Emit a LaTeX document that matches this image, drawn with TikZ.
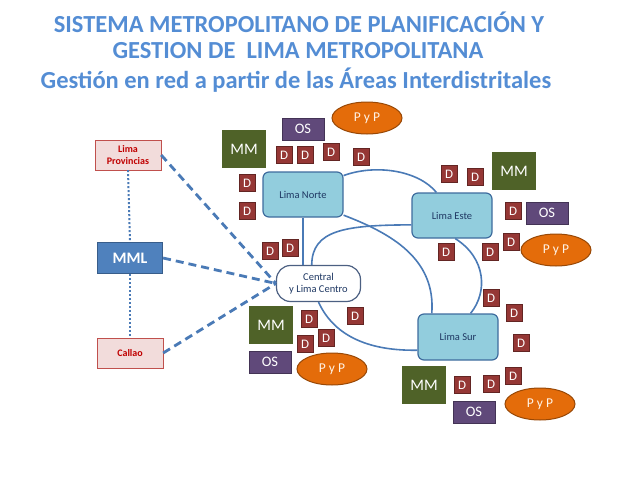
\documentclass[tikz,border=0pt]{standalone}
\usepackage{fontspec}
\setmainfont{Carlito}
\usetikzlibrary{shapes.geometric}

\definecolor{titulo}{RGB}{84,141,212}
\definecolor{linea}{RGB}{74,122,182}
\definecolor{zonafondo}{RGB}{146,205,221}
\definecolor{zonaborde}{RGB}{62,108,158}
\definecolor{zonatexto}{RGB}{31,56,99}
\definecolor{rosafondo}{RGB}{242,220,219}
\definecolor{rosaborde}{RGB}{192,80,77}
\definecolor{rojotexto}{RGB}{192,0,0}
\definecolor{mmlfondo}{RGB}{79,129,189}
\definecolor{mmlborde}{RGB}{56,93,138}
\definecolor{dfondo}{RGB}{149,55,53}
\definecolor{dborde}{RGB}{99,37,35}
\definecolor{mmfondo}{RGB}{79,98,40}
\definecolor{osfondo}{RGB}{96,73,122}
\definecolor{pypfondo}{RGB}{228,108,10}
\definecolor{pypborde}{RGB}{152,72,6}

\begin{document}
\begin{tikzpicture}[x=1pt, y=-1pt,
	every node/.style={inner sep=0pt},
	zona/.style={draw=zonaborde, fill=zonafondo, line width=1.2pt, rounded corners=6pt, minimum width=80pt, minimum height=45pt, text=zonatexto, font=\fontsize{10.5}{12}\selectfont},
	rosa/.style={draw=rosaborde, fill=rosafondo, minimum width=66pt, minimum height=30pt, text=rojotexto, align=center, font=\bfseries\fontsize{10}{11.5}\selectfont},
	dbox/.style={draw=dborde, fill=dfondo, text=white, minimum width=16pt, minimum height=17pt, font=\fontsize{13}{13}\selectfont},
	mmbox/.style={fill=mmfondo, text=white, minimum width=44pt, minimum height=38pt, font=\fontsize{16}{16}\selectfont},
	osbox/.style={draw=osfondo!70!black, fill=osfondo, text=white, minimum width=42pt, minimum height=22pt, font=\fontsize{14.5}{14.5}\selectfont},
	pyp/.style={ellipse, draw=pypborde, fill=pypfondo, line width=1pt, text=white!90!orange, minimum width=70pt, minimum height=32pt, font=\fontsize{13.5}{13.5}\selectfont},
	red/.style={linea, line width=1.6pt},
	enlace/.style={linea, line width=2.8pt, dash pattern=on 8pt off 5pt},
	punteado/.style={linea, line width=2pt, dash pattern=on 2pt off 2pt},
	titular/.style={text=titulo, font=\bfseries\fontsize{24.5}{24.5}\selectfont}]
	\useasboundingbox (0,0) rectangle (638,479);

	% titulo
	\node[titular] (tit1) at (299,22) {SISTEMA METROPOLITANO DE PLANIFICACIÓN Y};
	\node[titular] (tit2) at (298,51) {GESTION DE \ LIMA METROPOLITANA};
	\node[titular] (tit3) at (296,80) {Gestión en red a partir de las Áreas Interdistritales};

	% lado izquierdo
	\node[rosa] (lprov) at (128,155) {Lima\\Provincias};
	\node[draw=mmlborde, fill=mmlfondo, line width=1.2pt, minimum width=65pt, minimum height=31pt, text=white, font=\bfseries\fontsize{16}{16}\selectfont] (mml) at (130,258) {MML};
	\node[rosa] (callao) at (130,353) {Callao};

	% areas interdistritales
	\node[zona] (norte) at (303,194.5) {Lima Norte};
	\node[zona] (este) at (452,215.5) {Lima Este};
	\node[zona, minimum height=46pt] (sur) at (458,337) {Lima Sur};
	\node[draw=zonatexto!80!white, fill=white, line width=1.2pt, rounded corners=14pt, minimum width=84pt, minimum height=36pt, text=zonatexto, align=center, font=\fontsize{10.5}{12.5}\selectfont] (central) at (318.5,283.5) {Central\\y Lima Centro};

	% conexiones
	\draw[punteado] (lprov.south) -- (mml.north);
	\draw[punteado] (mml.south) -- (callao.north);
	\draw[enlace] (lprov.east) -- (central.west);
	\draw[enlace] (mml.east) -- (central.west);
	\draw[enlace] (callao.east) -- (central.west);

	\draw[red] (norte.25) .. controls (375,164) and (418,170) .. (este.124);
	\draw[red] (norte.-27) .. controls (390,233) and (436,258) .. (sur.138);
	\draw[red] (norte.south) -- (norte.south |- central.north);
	\draw[red] (este.193) .. controls (345,225) and (312,230) .. (central.110);
	\draw[red] (este.-82) .. controls (486,258) and (488,292) .. (sur.62);
	\draw[red] (central.south) .. controls (335,338) and (372,351) .. (sur.198);

	% distritos
	\foreach \x/\y [count=\i] in {284/155, 305/155, 331/152, 361/157, 247/183, 247/211, 270/251, 290/248,
		449/174, 475/177, 513/211, 446/252, 490/252, 511/242,
		309/319, 355/316, 326/338, 305/344,
		491/298, 514/313, 521/343, 462/385, 491/384, 513/376}
		\node[dbox] (d\i) at (\x,\y) {D};

	% municipalidades, organizaciones sociales, planes y proyectos
	\node[mmbox] (mm1) at (244,149) {MM};
	\node[mmbox] (mm2) at (514,171) {MM};
	\node[mmbox] (mm3) at (271,325) {MM};
	\node[mmbox] (mm4) at (424,385) {MM};
	\node[osbox] (os1) at (303,129) {OS};
	\node[osbox] (os2) at (547,213) {OS};
	\node[osbox] (os3) at (270,362) {OS};
	\node[osbox] (os4) at (474,412) {OS};
	\node[pyp] (pyp1) at (367,118) {P y P};
	\node[pyp] (pyp2) at (556,250) {P y P};
	\node[pyp] (pyp3) at (332,369) {P y P};
	\node[pyp] (pyp4) at (540,404) {P y P};
\end{tikzpicture}
\end{document}
